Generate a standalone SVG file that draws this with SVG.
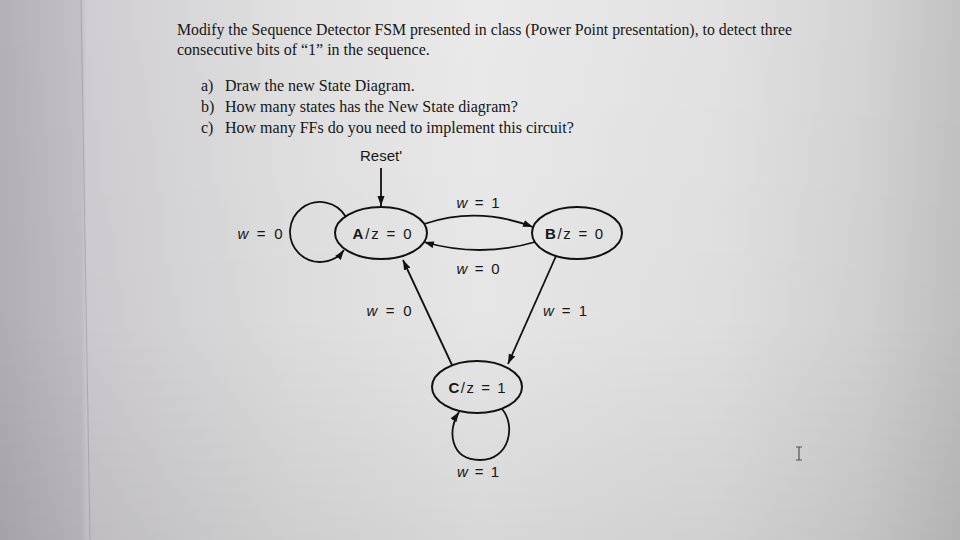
<svg xmlns="http://www.w3.org/2000/svg" width="960" height="540" viewBox="0 0 960 540">
  <defs>
    <linearGradient id="bg" x1="0" y1="0" x2="1" y2="0">
      <stop offset="0" stop-color="#b3b1b7"/>
      <stop offset="0.085" stop-color="#c3c1c5"/>
      <stop offset="0.09" stop-color="#cfcdd1"/>
      <stop offset="0.3" stop-color="#e0e0e0"/>
      <stop offset="0.5" stop-color="#eaeaea"/>
      <stop offset="0.75" stop-color="#e2e2e2"/>
      <stop offset="0.9" stop-color="#d4d4d4"/>
      <stop offset="1" stop-color="#c2c2c2"/>
    </linearGradient>
    <linearGradient id="shade" x1="0" y1="0" x2="0" y2="1">
      <stop offset="0" stop-color="#000" stop-opacity="0"/>
      <stop offset="0.6" stop-color="#000" stop-opacity="0.02"/>
      <stop offset="1" stop-color="#000" stop-opacity="0.08"/>
    </linearGradient>
    <marker id="arr" markerUnits="userSpaceOnUse" markerWidth="11" markerHeight="8" refX="10" refY="3.5" orient="auto">
      <path d="M0,0 L10,3.5 L0,7 z" fill="#111"/>
    </marker>
    <style>
      .q { font-family: "Liberation Serif", "Times New Roman", serif; font-size: 16px; fill: #161616; }
      .lbl { font-family: "Liberation Sans", Arial, sans-serif; font-size: 15px; fill: #161616; text-anchor: middle; }
      .st { fill: none; stroke: #111; stroke-width: 2; }
      .edge { fill: none; stroke: #111; stroke-width: 1.8; }
    </style>
  </defs>

  <rect x="0" y="0" width="960" height="540" fill="url(#bg)"/>
  <rect x="0" y="0" width="960" height="540" fill="url(#shade)"/>
  <line x1="81" y1="0" x2="90" y2="540" stroke="#8c8a90" stroke-width="0.8" stroke-opacity="0.6"/>

  <g id="question">
    <text class="q" x="177" y="35" textLength="615" lengthAdjust="spacingAndGlyphs">Modify the Sequence Detector FSM presented in class (Power Point presentation), to detect three</text>
    <text class="q" x="177" y="55">consecutive bits of “1” in the sequence.</text>
    <text class="q" x="201" y="91">a)</text>
    <text class="q" x="225" y="91">Draw the new State Diagram.</text>
    <text class="q" x="201" y="112">b)</text>
    <text class="q" x="225" y="112">How many states has the New State diagram?</text>
    <text class="q" x="201" y="133">c)</text>
    <text class="q" x="225" y="133">How many FFs do you need to implement this circuit?</text>
  </g>

  <g id="connectors">
    <line class="edge" x1="381" y1="168" x2="381" y2="206" marker-end="url(#arr)"/>
    <path class="edge" d="M346,217 A30,30 0 1 0 344,250" marker-end="url(#arr)"/>
    <path class="edge" d="M424,224 Q478,206 533,227" marker-end="url(#arr)"/>
    <path class="edge" d="M535,242 Q480,258 424,242" marker-end="url(#arr)"/>
    <line class="edge" x1="556" y1="256" x2="508" y2="364" marker-end="url(#arr)"/>
    <line class="edge" x1="452" y1="365" x2="403" y2="260" marker-end="url(#arr)"/>
    <path class="edge" d="M502,409 C516,425 510,460 480,460 C450,460 447,430 459,412" marker-end="url(#arr)"/>
  </g>

  <g id="edge-labels">
    <text class="lbl" x="381" y="161">Reset'</text>
    <text class="lbl" x="260" y="239" textLength="45"><tspan font-style="italic">w</tspan> = 0</text>
    <text class="lbl" x="478" y="208" textLength="43"><tspan font-style="italic">w</tspan> = 1</text>
    <text class="lbl" x="478" y="274" textLength="43"><tspan font-style="italic">w</tspan> = 0</text>
    <text class="lbl" x="389" y="316" textLength="45"><tspan font-style="italic">w</tspan> = 0</text>
    <text class="lbl" x="565" y="316" textLength="44"><tspan font-style="italic">w</tspan> = 1</text>
    <text class="lbl" x="478" y="477" textLength="42"><tspan font-style="italic">w</tspan> = 1</text>
  </g>

  <g id="node-A">
    <ellipse class="st" cx="381" cy="233" rx="46" ry="26"/>
    <text class="lbl" x="382" y="239" textLength="59"><tspan font-weight="bold">A</tspan>/z = 0</text>
  </g>
  <g id="node-B">
    <ellipse class="st" cx="577" cy="233" rx="45" ry="26"/>
    <text class="lbl" x="574" y="239" textLength="58"><tspan font-weight="bold">B</tspan>/z = 0</text>
  </g>
  <g id="node-C">
    <ellipse class="st" cx="477" cy="387" rx="45" ry="26"/>
    <text class="lbl" x="477" y="393" textLength="57"><tspan font-weight="bold">C</tspan>/z = 1</text>
  </g>

  <path d="M796,447 h6 M799,447 v13 M796,460 h6" stroke="#555" stroke-width="1.2" fill="none"/>
</svg>
